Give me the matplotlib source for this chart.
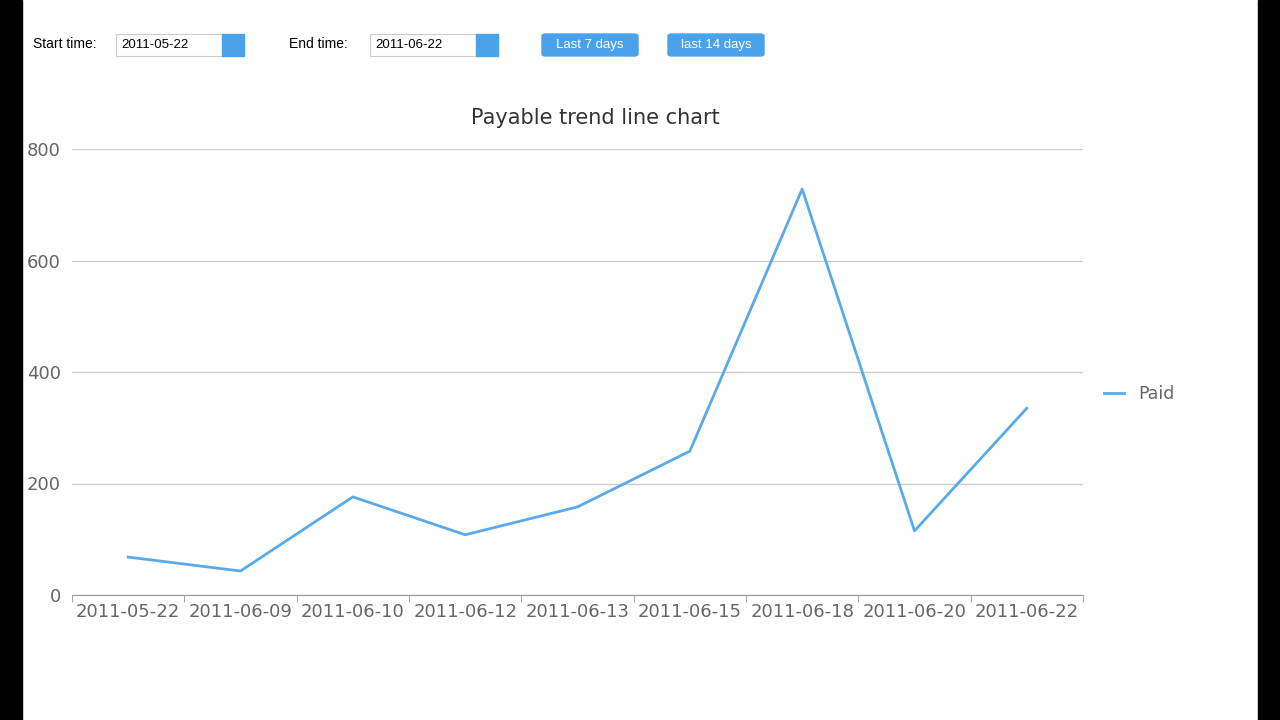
import matplotlib
matplotlib.use("Agg")
import matplotlib.pyplot as plt
from matplotlib.patches import Rectangle, FancyBboxPatch

categories = ["2011-05-22","2011-06-09","2011-06-10","2011-06-12","2011-06-13",
              "2011-06-15","2011-06-18","2011-06-20","2011-06-22"]
paid = [68, 43, 176, 108, 158, 258, 728, 115, 335]
yticks = [0, 200, 400, 600, 800]

W, H = 1280, 720
fig = plt.figure(figsize=(12.8, 7.2), dpi=100)
fig.patch.set_facecolor("white")
def fx(x): return x / W
def fy(y): return 1 - y / H

# black side borders
fig.add_artist(Rectangle((0, 0), fx(22), 1, transform=fig.transFigure, color="black"))
fig.add_artist(Rectangle((fx(1258), 0), fx(22), 1, transform=fig.transFigure, color="black"))

# top controls
blue = "#4aa3ea"
fig.text(fx(33), fy(44), "Start time:", fontsize=10, va="center", family="Liberation Sans")
fig.add_artist(Rectangle((fx(116), fy(56)), fx(106), 22/H, transform=fig.transFigure,
                         fill=False, ec="#cccccc", lw=0.8))
fig.text(fx(121), fy(45), "2011-05-22", fontsize=9.5, va="center", family="Liberation Sans")
fig.add_artist(Rectangle((fx(222), fy(56)), fx(22), 22/H, transform=fig.transFigure, color=blue))
fig.text(fx(289), fy(44), "End time:", fontsize=10, va="center", family="Liberation Sans")
fig.add_artist(Rectangle((fx(370), fy(56)), fx(106), 22/H, transform=fig.transFigure,
                         fill=False, ec="#cccccc", lw=0.8))
fig.text(fx(375), fy(45), "2011-06-22", fontsize=9.5, va="center", family="Liberation Sans")
fig.add_artist(Rectangle((fx(476), fy(56)), fx(22), 22/H, transform=fig.transFigure, color=blue))
for x0, x1, lab in [(542, 638, "Last 7 days"), (668, 764, "last 14 days")]:
    fig.add_artist(FancyBboxPatch((fx(x0), fy(56)), fx(x1 - x0), 22/H, transform=fig.transFigure,
                                  boxstyle="round,pad=0,rounding_size=0.003", color=blue))
    fig.text(fx((x0 + x1) / 2), fy(45), lab, fontsize=9.5, color="white",
             ha="center", va="center", family="Liberation Sans")

# chart
ax = fig.add_axes([fx(72), fy(595), fx(1083 - 72), (595 - 149) / H])
x = list(range(len(categories)))
ax.plot(x, paid, color="#5aaaea", lw=2, label="Paid")
ax.set_xlim(-0.5, len(categories) - 0.5)
ax.set_ylim(0, 800)
ax.set_yticks(yticks)
ax.set_xticks(x)
ax.set_xticklabels(categories)
ax.set_xticks([i - 0.5 for i in range(len(categories) + 1)], minor=True)
ax.grid(axis="y", color="#cccccc", lw=1)
for s in ["top", "right", "left"]:
    ax.spines[s].set_visible(False)
ax.spines["bottom"].set_color("#999999")
ax.tick_params(axis="y", length=0, labelsize=13, colors="#666666", pad=8)
ax.tick_params(axis="x", which="major", length=0, labelsize=13, colors="#666666", pad=6)
ax.tick_params(axis="x", which="minor", length=5, color="#999999")
ax.set_axisbelow(True)
fig.text(fx(595), fy(118), "Payable trend line chart", fontsize=15, color="#333333",
         ha="center", va="center")
fig.legend(loc="center left", bbox_to_anchor=(fx(1088), fy(394)), frameon=False,
           fontsize=12.5, handlelength=1.2, labelcolor="#666666")
fig.savefig("out.png", dpi=100)
